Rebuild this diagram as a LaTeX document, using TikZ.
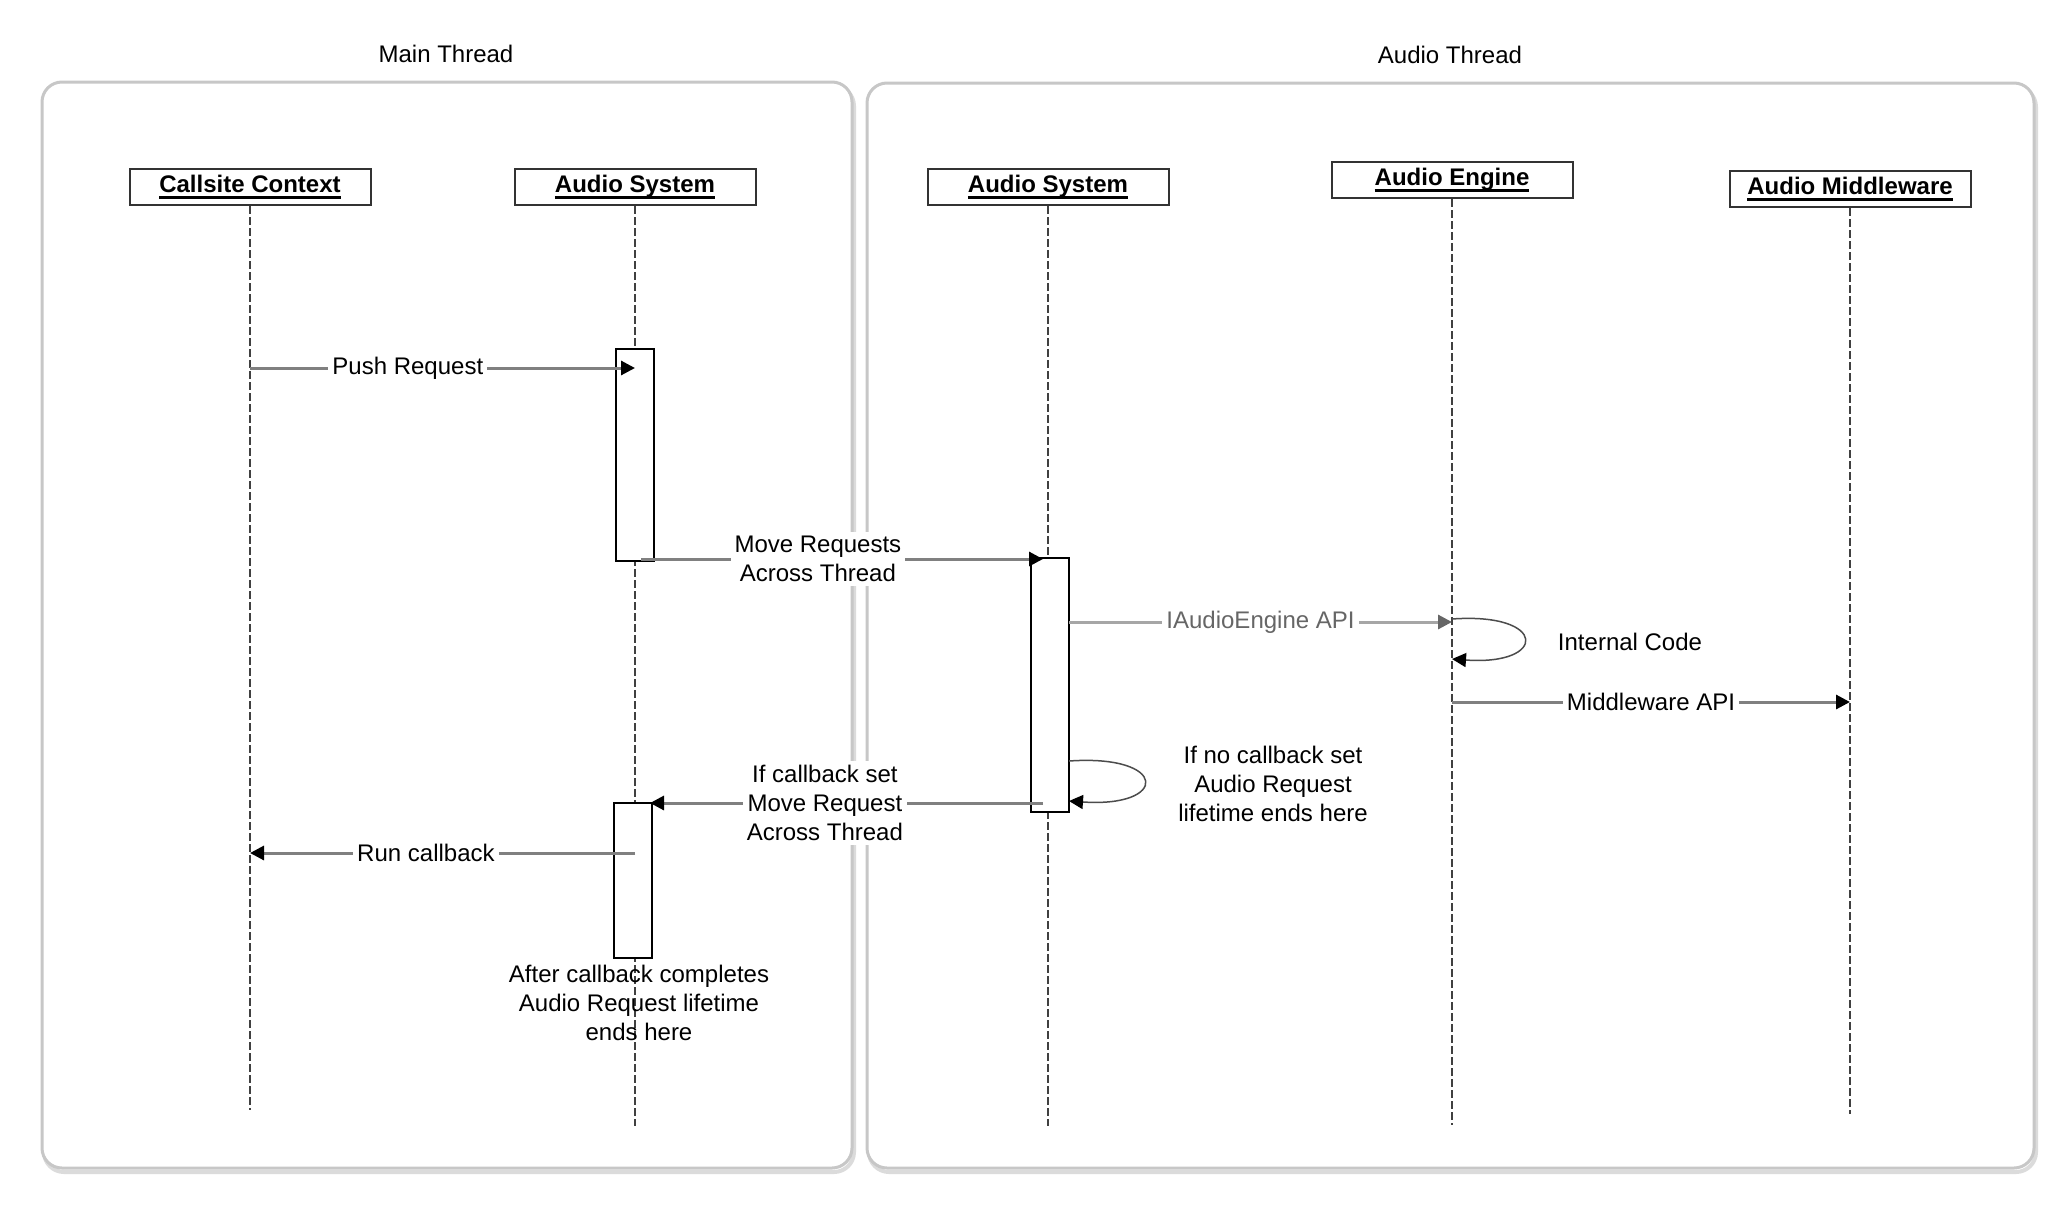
\documentclass[tikz,border=0pt]{standalone}
\usepackage{fontspec}
\setmainfont{Liberation Sans}
\usetikzlibrary{arrows.meta, positioning, calc}

\newcommand{\ulhead}[1]{\setbox0\hbox{#1}\rlap{\copy0}\raisebox{-3pt}{\rule{\wd0}{1.2pt}}}

\begin{document}
\begin{tikzpicture}[x=0.5pt, y=-0.5pt, >={Triangle[length=7pt, width=7pt, color=black]}, font=\fontsize{12}{14.5}\selectfont]
    \tikzstyle{frame} = [draw=black!22, line width=1.5pt, rounded corners=10pt]
    \tikzstyle{shade} = [draw=black!14, line width=2pt, rounded corners=10pt]
    \tikzstyle{actor} = [rectangle, draw=black!80, line width=1pt, fill=white, minimum width=120.5pt, minimum height=18pt, inner sep=0pt, font=\fontsize{12}{14.5}\selectfont\bfseries]
    \tikzstyle{life} = [draw=black!75, line width=0.75pt, dash pattern=on 4pt off 1.5pt]
    \tikzstyle{act} = [rectangle, draw=black, line width=0.75pt, fill=white, minimum width=19pt, inner sep=0pt]
    \tikzstyle{msg} = [draw=black!50, line width=1.5pt, ->]
    \tikzstyle{lbl} = [fill=white, inner sep=2pt, align=center, text=black]
    \tikzstyle{selfloop} = [draw=black!70, line width=0.75pt, ->]

    \useasboundingbox (0,0) rectangle (2070,1216);

    % Thread frames
    \draw [shade] (44,86) rectangle (854,1172);
    \draw [shade] (869,87) rectangle (2036,1172);
    \draw [frame, fill=white] (42,82) rectangle (852,1168);
    \draw [frame, fill=white] (867,83) rectangle (2034,1168);
    \node (mainlbl) at (446,54) {Main Thread};
    \node (audiolbl) at (1450,55) {Audio Thread};

    % Nodes
    \node [actor] (cs) at (250,187) {\ulhead{Callsite Context}};
    \node [actor] (sysm) at (635,187) {\ulhead{Audio System}};
    \node [actor] (sysa) at (1048,187) {\ulhead{Audio System}};
    \node [actor] (eng) at (1452,180) {\ulhead{Audio Engine}};
    \node [actor] (mid) at (1850,189) {\ulhead{Audio Middleware}};

    % Lifelines
    \coordinate (cs-end) at (250,1110);
    \coordinate (sysm-end) at (635,1126);
    \coordinate (sysa-end) at (1048,1126);
    \coordinate (eng-end) at (1452,1125);
    \coordinate (mid-end) at (1850,1114);
    \draw [life] (cs.south) -- (cs-end);
    \draw [life] (sysm.south) -- (sysm-end);
    \draw [life] (sysa.south) -- (sysa-end);
    \draw [life] (eng.south) -- (eng-end);
    \draw [life] (mid.south) -- (mid-end);

    % Activations
    \node [act, minimum height=106pt] (act1) at (635,455) {};
    \node [act, minimum height=127pt] (act3) at (1050,685) {};
    \node [act, minimum height=77.5pt] (act2) at (633,880.5) {};

    % Message ends
    \coordinate (push-s) at (250,368);
    \coordinate (push-e) at (635,368);
    \coordinate (move-s) at (641,559);
    \coordinate (move-e) at (1043,559);
    \coordinate (api-s) at (1069,622);
    \coordinate (api-e) at (1452,622);
    \coordinate (int-s) at (1452,619);
    \coordinate (int-e) at (1452,659);
    \coordinate (mw-s) at (1452,702);
    \coordinate (mw-e) at (1850,702);
    \coordinate (none-s) at (1069,761);
    \coordinate (none-e) at (1069,801);
    \coordinate (back-s) at (1043,803);
    \coordinate (back-e) at (650,803);
    \coordinate (run-s) at (635,853);
    \coordinate (run-e) at (250,853);

    % Connections
    \draw [msg] (push-s) -- node[lbl, pos=0.41]{Push Request} (push-e);
    \draw [msg] (move-s) -- node[lbl, pos=0.44]{Move Requests\\Across Thread} (move-e);
    \draw [msg, draw=black!35, >={Triangle[length=7pt, width=7pt, color=black!60]}] (api-s) -- node[lbl, pos=0.5, text=black!60]{IAudioEngine API} (api-e);
    \draw [selfloop] (int-s) .. controls (1548,612) and (1548,666) .. (int-e);
    \draw [msg] (mw-s) -- node[lbl, pos=0.5]{Middleware API} (mw-e);
    \draw [selfloop] (none-s) .. controls (1169,754) and (1169,808) .. (none-e);
    \draw [msg] (back-s) -- node[lbl, pos=0.555]{If callback set\\Move Request\\Across Thread} (back-e);
    \draw [msg] (run-s) -- node[lbl, pos=0.543]{Run callback} (run-e);

    % Notes
    \node [align=center] (intnote) at (1630,642) {Internal Code};
    \node [align=center] (nonenote) at (1273,784) {If no callback set\\Audio Request\\lifetime ends here};
    \node [align=center] (endnote) at (639,1003) {After callback completes\\Audio Request lifetime\\ends here};
\end{tikzpicture}
\end{document}
